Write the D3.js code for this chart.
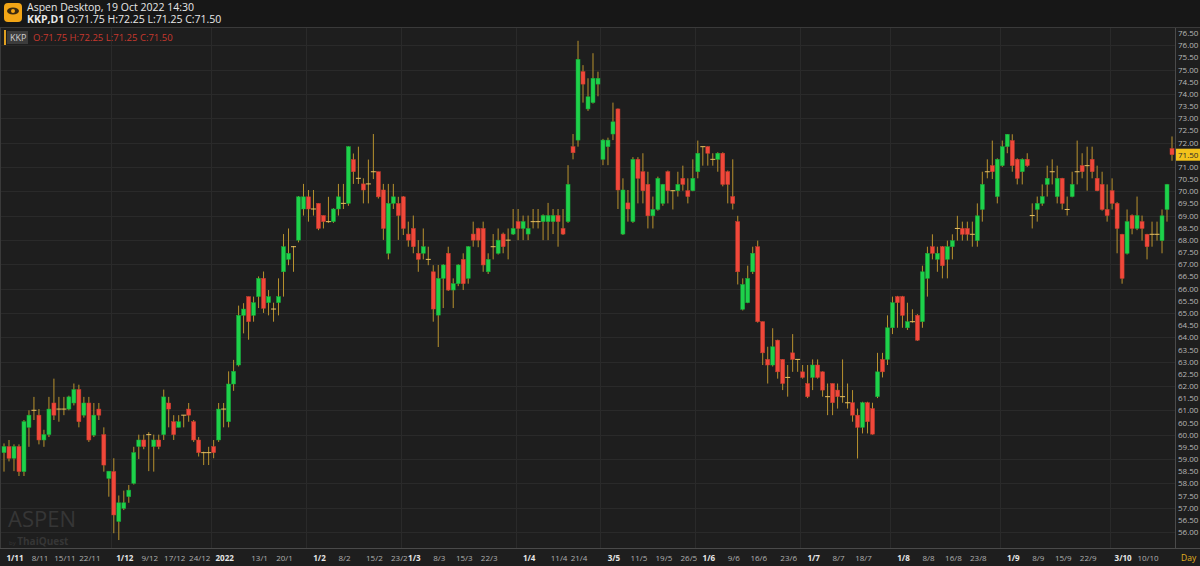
<!DOCTYPE html>
<html>
<head>
<meta charset="utf-8">
<script src="https://cdn.jsdelivr.net/npm/d3@7"></script>
<style>
  body { margin: 0; background: #1e1e1e; overflow: hidden; }
  text { font-family: "Open Sans", "Noto Sans", sans-serif; }
</style>
</head>
<body>
<div id="chart"></div>
<script>
// OHLC, one entry per trading day (1 Nov 2021 .. 19 Oct 2022)
let opens = [59.26,59.51,59.03,59.51,58.48,60.3,61.0,60.8,59.78,60.0,61.3,61.05,61.05,61.05,61.3,61.85,60.8,61.3,59.98,61.05,
  60.0,58.2,58.48,56.43,56.97,57.45,58.0,59.51,59.78,60.0,59.51,59.78,60.0,61.3,60.53,60.3,60.8,61.05,60.53,59.78,
  59.26,59.26,59.51,59.78,61.05,60.53,62.08,62.86,64.9,65.67,64.9,65.67,66.42,65.42,65.16,65.42,66.69,67.2,67.72,67.99,
  69.27,69.77,69.27,69.5,69.0,68.75,68.75,69.27,69.5,69.5,71.3,70.53,70.3,70.3,70.8,70.8,70.05,67.45,69.5,69.5,
  69.77,68.24,68.47,67.45,67.45,67.2,66.69,64.91,66.42,67.45,65.94,66.2,67.2,66.42,68.24,68.47,68.47,66.69,67.72,67.45,
  68.24,67.99,68.24,68.75,68.47,68.24,68.75,68.75,68.75,68.75,68.75,69.0,68.47,68.75,71.83,72.1,74.91,73.38,73.64,74.4,
  71.31,71.83,72.35,73.38,68.24,69.52,68.75,71.31,70.8,70.28,68.99,69.25,69.5,70.8,70.02,70.02,70.53,70.02,70.02,70.8,
  71.83,71.83,71.31,71.31,71.56,70.8,69.78,68.75,65.15,65.42,66.69,67.72,64.64,63.09,62.86,63.88,63.09,62.35,63.36,63.09,
  62.58,62.1,62.35,62.86,62.58,61.56,62.1,61.83,61.56,61.31,61.31,60.8,60.3,61.31,61.07,61.56,63.09,63.09,64.39,65.67,
  65.67,64.39,64.64,64.9,64.64,66.42,67.72,67.2,67.72,67.2,67.72,68.47,68.47,68.47,68.23,67.97,69.25,70.8,71.05,69.78,
  71.05,71.83,72.08,71.31,70.8,71.31,69.0,69.25,69.5,70.28,70.8,69.78,70.53,69.25,69.78,70.8,71.05,71.05,71.31,70.53,
  70.28,69.25,70.02,69.5,68.23,67.45,69.0,68.47,68.75,68.23,68.23,68.23,67.97,69.25,71.75];
let highs = [59.64,59.78,59.6,59.6,60.6,61.0,61.55,61.05,60.2,61.55,62.3,61.55,61.55,61.6,62.1,62.05,61.55,61.55,61.3,61.3,
  60.3,58.48,59.03,57.5,57.7,57.93,59.5,60.0,60.0,60.1,60.0,60.0,61.85,61.55,60.8,60.8,60.8,61.3,60.6,59.9,
  59.3,59.5,59.78,61.3,61.3,62.6,63.07,65.3,65.4,65.67,65.67,66.5,66.7,65.94,65.42,66.42,68.24,68.47,67.75,69.8,
  70.3,70.05,70.05,69.5,69.0,69.77,69.3,70.3,70.3,71.85,71.55,71.83,70.53,71.3,72.35,70.8,70.3,70.3,70.3,69.77,
  69.8,68.75,69.0,67.99,68.47,67.72,66.96,66.97,67.0,67.72,66.42,67.0,67.45,67.75,68.75,68.5,68.75,67.45,68.24,68.47,
  68.3,68.47,69.27,69.27,69.0,69.0,69.27,69.27,69.05,69.52,69.27,69.27,69.27,71.07,72.35,76.18,75.18,74.64,75.67,74.91,
  72.15,72.2,73.64,73.4,70.53,70.05,71.4,71.4,71.56,70.8,69.78,70.6,70.3,70.85,70.05,70.8,71.05,70.53,71.31,72.08,
  71.83,71.85,71.56,71.6,71.6,70.85,71.31,68.99,66.42,66.94,67.72,67.97,64.65,63.61,64.37,63.9,63.1,62.86,64.13,63.1,
  62.86,62.86,63.09,63.09,62.6,62.1,62.1,62.1,63.09,62.1,61.83,61.07,61.35,61.35,61.31,63.36,63.36,64.9,65.67,65.7,
  65.7,65.42,65.15,64.95,66.94,67.72,68.23,67.72,67.75,67.97,68.23,68.99,68.75,68.75,68.75,69.5,70.8,71.31,72.08,71.35,
  72.08,72.35,72.34,71.35,71.35,71.56,69.5,69.78,70.28,71.05,71.31,71.05,70.55,69.78,70.8,72.08,71.56,71.83,71.83,71.05,
  70.8,70.28,70.53,69.55,68.25,69.25,69.05,69.78,69.0,68.25,68.75,68.75,69.25,70.3,72.25];
let lows = [58.48,58.9,58.5,58.3,58.3,59.5,60.6,59.6,59.5,59.9,60.6,60.53,60.8,61.0,61.2,60.3,60.7,59.7,59.9,60.6,
  58.48,57.45,55.95,55.67,56.9,57.2,57.95,59.0,59.4,58.5,58.48,59.4,59.78,60.3,59.78,60.3,60.3,60.53,59.7,59.1,
  58.75,58.75,59.03,59.7,60.3,60.3,61.8,62.8,64.16,63.9,64.64,65.2,65.0,64.9,64.64,64.9,65.67,66.96,66.69,67.9,
  69.0,68.75,69.0,68.4,68.47,68.7,68.7,69.0,69.27,69.4,70.3,70.3,69.5,69.5,70.5,69.7,68.0,67.2,69.27,68.0,
  68.2,67.72,67.45,66.69,67.2,66.96,64.64,63.6,65.2,65.9,65.2,66.1,65.94,66.2,67.72,67.7,66.69,66.6,67.2,67.4,
  67.45,67.2,68.2,67.99,67.99,67.99,68.47,68.47,67.99,67.99,68.24,67.72,68.2,68.7,71.31,71.83,73.64,73.3,73.6,73.9,
  71.07,71.07,72.1,69.27,68.2,68.75,68.7,69.5,69.5,68.47,68.47,69.2,69.4,69.5,69.25,69.78,70.02,69.5,70.0,70.53,
  71.05,71.05,71.05,70.8,70.2,69.5,69.25,66.17,65.1,65.4,66.6,64.6,62.86,62.1,62.8,62.3,61.83,61.56,62.58,62.58,
  62.3,61.5,61.83,62.3,61.56,60.8,60.8,61.07,61.31,61.07,60.53,59.02,60.05,60.05,60.0,61.5,62.35,62.86,64.13,64.39,
  64.39,64.3,64.6,63.85,64.39,65.67,67.2,66.69,66.42,66.42,67.2,67.97,67.97,67.97,67.72,67.72,68.75,70.53,70.5,69.5,
  71.0,71.56,70.8,70.28,70.28,71.0,68.47,68.75,69.4,69.78,70.28,69.5,69.25,69.0,69.75,70.28,70.53,70.02,70.53,70.0,
  69.2,68.75,69.25,67.45,66.2,67.4,68.23,68.4,67.97,67.2,67.72,67.97,67.45,68.75,71.25];
let closes = [59.51,59.03,59.51,58.48,60.53,60.8,61.0,59.78,60.0,61.05,60.8,61.05,61.05,61.55,61.85,60.53,61.3,59.78,60.8,60.8,
  58.75,58.5,56.7,57.2,57.2,57.72,59.26,59.78,59.51,60.0,59.78,59.51,61.55,61.05,60.0,60.53,60.8,60.8,59.78,59.26,
  59.26,59.26,59.26,61.05,61.05,62.08,62.6,64.9,65.16,64.64,65.42,66.42,65.19,65.67,65.16,65.67,67.72,67.45,67.72,69.77,
  69.77,69.27,69.27,68.47,68.75,68.75,69.27,69.77,69.5,71.83,70.8,70.53,70.05,70.3,70.8,69.77,68.47,69.5,69.77,69.0,
  68.47,67.99,67.72,67.2,67.72,67.2,65.16,66.42,66.97,65.94,66.2,66.97,66.2,67.72,67.99,67.99,66.97,67.2,67.72,67.99,
  67.72,67.99,68.47,68.47,68.75,68.47,68.75,68.75,69.0,69.0,69.0,68.75,68.24,70.28,71.58,75.42,74.4,73.88,74.64,74.64,
  72.1,72.1,72.85,70.05,70.05,69.27,71.31,70.53,70.02,68.99,69.25,70.53,70.28,70.02,70.02,70.28,70.28,69.78,70.53,71.56,
  71.83,71.56,71.31,71.56,70.28,70.28,69.5,66.69,66.17,66.42,67.45,64.64,63.36,62.86,63.61,62.58,62.1,62.35,63.09,63.09,
  62.35,61.56,62.86,62.35,61.83,61.56,61.31,61.56,61.56,61.31,60.8,60.3,61.31,60.53,60.02,62.58,62.58,64.39,65.42,65.42,
  64.9,64.64,64.64,63.88,66.69,67.45,67.45,67.45,66.94,67.72,67.97,68.47,68.23,68.23,68.23,68.99,70.28,70.8,70.8,71.31,
  71.83,72.34,71.05,70.53,71.31,71.05,69.0,69.5,69.78,70.53,70.8,70.53,69.5,69.25,70.28,70.8,70.8,71.05,70.8,70.02,
  69.25,69.0,69.5,68.47,66.42,68.75,68.47,69.0,68.47,67.72,68.23,68.23,68.99,70.28,71.5];

// date labels: text and the candle index they sit under
let tickLabels = ["1/11","8/11","15/11","22/11","1/12","9/12","17/12","24/12","2022","13/1","20/1","1/2","8/2","15/2","23/2",
  "1/3","8/3","15/3","22/3","1/4","11/4","21/4","3/5","11/5","19/5","26/5","1/6","9/6","16/6","23/6","1/7","8/7","18/7",
  "1/8","8/8","16/8","23/8","1/9","8/9","15/9","22/9","3/10","10/10"];
let tickIndex = [0,5,10,15,22,27,32,37,42,49,54,61,66,72,77,80,85,90,95,103,109,113,120,125,130,135,139,144,149,155,
  160,165,170,178,183,188,193,200,205,210,215,222,227];
let boldLabels = ["1/11","1/12","2022","1/2","1/3","1/4","3/5","1/6","1/7","1/8","1/9","3/10"];

let candles = opens.map((o, i) => ({ i: i, o: o, h: highs[i], l: lows[i], c: closes[i] }));

let svgWidth = 1200, svgHeight = 566;
let svg = d3.select("#chart").append("svg")
  .attr("width", svgWidth).attr("height", svgHeight);

svg.append("rect").attr("width", svgWidth).attr("height", svgHeight).attr("fill", "#1e1e1e");

// header
svg.append("rect").attr("width", svgWidth).attr("height", 27).attr("fill", "#171717");
svg.append("rect").attr("x", 4).attr("y", 3).attr("width", 18).attr("height", 19).attr("rx", 4).attr("fill", "#f2a516");
svg.append("ellipse").attr("cx", 13).attr("cy", 11).attr("rx", 6).attr("ry", 3.5).attr("fill", "#3a2a10");
svg.append("circle").attr("cx", 13).attr("cy", 11).attr("r", 2).attr("fill", "#f2a516");
svg.append("text").attr("x", 27).attr("y", 11).attr("fill", "#e8e8e8").attr("font-size", 10.5)
  .text("Aspen Desktop, 19 Oct 2022 14:30");
let hdr = svg.append("text").attr("x", 27).attr("y", 23).attr("fill", "#e8e8e8").attr("font-size", 10.5);
hdr.append("tspan").attr("font-weight", "bold").text("KKP,D1 ");
hdr.append("tspan").text("O:71.75 H:72.25 L:71.25 C:71.50");

// scales
let x = d3.scaleLinear().domain([0, candles.length - 1]).range([4, 1172]);
let y = d3.scaleLinear().domain([56, 76.5]).range([532, 33]);

// frame
svg.append("line").attr("x1", 0).attr("x2", svgWidth).attr("y1", 27.5).attr("y2", 27.5).attr("stroke", "#3a3a3a");
svg.append("line").attr("x1", 1175.5).attr("x2", 1175.5).attr("y1", 28).attr("y2", 548).attr("stroke", "#4a4a4a");
svg.append("line").attr("x1", 0).attr("x2", svgWidth).attr("y1", 548.5).attr("y2", 548.5).attr("stroke", "#4a4a4a");
svg.append("line").attr("x1", 0.5).attr("x2", 0.5).attr("y1", 28).attr("y2", 548).attr("stroke", "#3a3a3a");

// grid
let grid = svg.append("g");
grid.selectAll("line.h").data(d3.range(56, 77, 1)).enter().append("line")
  .attr("x1", 1).attr("x2", 1175).attr("y1", d => Math.round(y(d)) + 0.5).attr("y2", d => Math.round(y(d)) + 0.5)
  .attr("stroke", "#2a2a2a");
let monthIdx = tickIndex.filter((d, k) => boldLabels.includes(tickLabels[k]) && k > 0);
grid.selectAll("line.v").data(monthIdx).enter().append("line")
  .attr("x1", d => Math.round(x(d) - 2.5) + 0.5).attr("x2", d => Math.round(x(d) - 2.5) + 0.5)
  .attr("y1", 28).attr("y2", 548).attr("stroke", "#2a2a2a");

// watermark
svg.append("text").attr("x", 8).attr("y", 527).attr("fill", "#363636").attr("font-size", 22)
  .attr("font-family", "Liberation Serif, serif").text("ASPEN");
let wm = svg.append("text").attr("x", 9).attr("y", 545).attr("fill", "#363636").attr("font-size", 9);
wm.append("tspan").attr("font-size", 6).text("by ");
wm.append("tspan").attr("font-weight", "bold").attr("font-size", 10).text("ThaiQuest");

// legend
svg.append("rect").attr("x", 4).attr("y", 30).attr("width", 2).attr("height", 15).attr("fill", "#e0a020");
svg.append("rect").attr("x", 7).attr("y", 31).attr("width", 21).attr("height", 13).attr("fill", "#3c3c3c");
svg.append("text").attr("x", 10).attr("y", 41).attr("fill", "#cfcfcf").attr("font-size", 9).text("KKP");
svg.append("text").attr("x", 33).attr("y", 41).attr("fill", "#c8392e").attr("font-size", 9.5)
  .text("O:71.75 H:72.25 L:71.25 C:71.50");

// candles
let cg = svg.append("g");
cg.selectAll("line.wick").data(candles).enter().append("line")
  .attr("x1", d => x(d.i)).attr("x2", d => x(d.i))
  .attr("y1", d => y(d.h)).attr("y2", d => y(d.l))
  .attr("stroke", "#b8922e").attr("stroke-width", 1);
cg.selectAll("rect.body").data(candles.filter(d => d.o !== d.c)).enter().append("rect")
  .attr("x", d => x(d.i) - 2).attr("width", 4)
  .attr("y", d => y(Math.max(d.o, d.c)))
  .attr("height", d => Math.max(1, Math.abs(y(d.o) - y(d.c))))
  .attr("fill", d => d.c > d.o ? "#1ed14b" : "#f0483a")
  .attr("stroke", d => d.c > d.o ? "#14a83a" : "#c93a2e").attr("stroke-width", 0.5);
cg.selectAll("line.doji").data(candles.filter(d => d.o === d.c)).enter().append("line")
  .attr("x1", d => x(d.i) - 2.5).attr("x2", d => x(d.i) + 2.5)
  .attr("y1", d => y(d.o)).attr("y2", d => y(d.o))
  .attr("stroke", "#e8c060").attr("stroke-width", 1);

// right axis
let rightAxis = d3.axisRight(y).tickValues(d3.range(56, 76.51, 0.5)).tickFormat(d3.format(".2f")).tickSize(0);
let ra = svg.append("g").attr("transform", "translate(1176,0)").call(rightAxis);
ra.select(".domain").remove();
ra.selectAll("text").attr("fill", "#b8b8b8").attr("font-size", 8).attr("x", 2)
  .attr("font-family", "Open Sans, sans-serif");

// last price tag
let last = candles[candles.length - 1];
svg.append("rect").attr("x", 1176).attr("y", y(last.c) - 6).attr("width", 24).attr("height", 12).attr("fill", "#f2c21b");
svg.append("text").attr("x", 1178).attr("y", y(last.c) + 3).attr("fill", "#2a2a2a").attr("font-size", 8)
  .text(last.c.toFixed(2));

// bottom axis
let bottom = svg.append("g");
bottom.selectAll("text").data(tickLabels).enter().append("text")
  .attr("x", (d, k) => x(tickIndex[k]) + 11).attr("y", 561)
  .attr("text-anchor", "middle").attr("font-size", 8)
  .attr("font-weight", d => boldLabels.includes(d) ? "bold" : "normal")
  .attr("fill", d => boldLabels.includes(d) ? "#e6e6e6" : "#b0b0b0")
  .text(d => d);
svg.append("text").attr("x", 1181).attr("y", 561).attr("fill", "#e0b020").attr("font-size", 8.5).text("Day");
</script>
</body>
</html>
